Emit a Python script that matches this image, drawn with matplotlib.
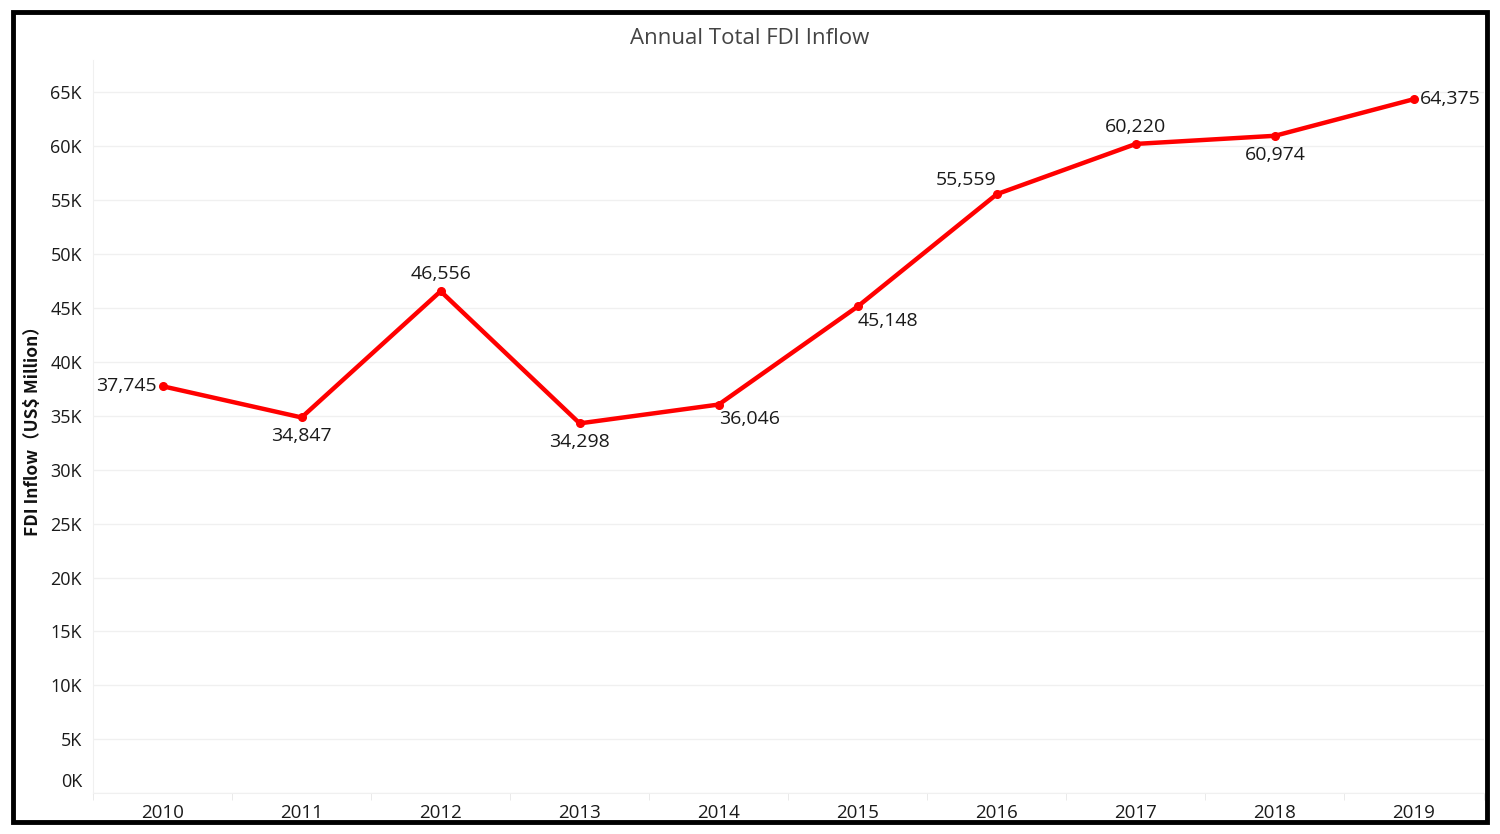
import matplotlib.pyplot as plt
from matplotlib.patches import Rectangle
from matplotlib.ticker import FuncFormatter, MultipleLocator

years = ['2010', '2011', '2012', '2013', '2014', '2015', '2016', '2017', '2018', '2019']
fdi = [37745, 34847, 46556, 34298, 36046, 45148, 55559, 60220, 60974, 64375]
# where each data label sits relative to its point
label_pos = ['left', 'below', 'above', 'below', 'below_right', 'below_right',
             'above_left', 'above', 'below', 'right']

plt.rcParams['font.family'] = ['Open Sans', 'DejaVu Sans']

fig = plt.figure(figsize=(15, 8.34), dpi=100)
ax = fig.add_axes([0.062, 0.049, 0.927, 0.879])

x = list(range(len(years)))
ax.plot(x, fdi, color='#ff0000', lw=3.2, marker='o', ms=5.5, zorder=3)

offsets = {'left': (-4.5, 0, 'right', 'center'),
           'right': (4.5, 0, 'left', 'center'),
           'above': (0, 6, 'center', 'bottom'),
           'below': (0, -7, 'center', 'top'),
           'below_right': (0, -4, 'left', 'top'),
           'above_left': (0, 4, 'right', 'bottom')}
for xi, v, pos in zip(x, fdi, label_pos):
    dx, dy, ha, va = offsets[pos]
    ax.annotate(f'{v:,}', (xi, v), xytext=(dx, dy), textcoords='offset points',
                ha=ha, va=va, fontsize=14, color='#1a1a1a')

ax.set_xlim(-0.5, 9.5)
ax.set_ylim(0, 68000)
ax.yaxis.set_major_locator(MultipleLocator(5000))
# 0K is drawn by hand a little higher, like the original
ax.yaxis.set_major_formatter(FuncFormatter(lambda v, p: '' if v == 0 else f'{int(v / 1000)}K'))
ax.annotate('0K', xy=(0, 0), xycoords=('axes fraction', 'data'), xytext=(-8, 8),
            textcoords='offset points', ha='right', va='center', fontsize=13, color='#1a1a1a')
ax.set_xticks(x)
ax.set_xticklabels(years)
ax.set_xticks([i - 0.5 for i in range(len(years) + 1)], minor=True)

ax.grid(axis='y', color='#f0f0f0', lw=1)
ax.set_axisbelow(True)
for s in ['top', 'right']:
    ax.spines[s].set_visible(False)
ax.spines['left'].set_color('#f0f0f0')
ax.spines['bottom'].set_color('#f0f0f0')
ax.tick_params(axis='both', which='major', length=0, labelsize=13, colors='#1a1a1a', pad=8)
ax.tick_params(axis='x', which='major', labelsize=13.5)
ax.tick_params(axis='x', which='minor', length=5, color='#e6e6e6')

ax.set_ylabel('FDI Inflow（US$ Million）', fontsize=12.5, fontweight='bold', color='#111111',
              family=['Noto Sans CJK SC', 'DejaVu Sans'], labelpad=6)
fig.text(0.5, 1 - 38 / 834, 'Annual Total FDI Inflow', fontsize=16, color='#444444',
         ha='center', va='center')

# black frame around the whole figure
fig.patches.append(Rectangle((0.009, 0.014), 0.982, 0.972, transform=fig.transFigure,
                             fill=False, edgecolor='black', lw=3.5))

fig.savefig('out.png', dpi=100)
